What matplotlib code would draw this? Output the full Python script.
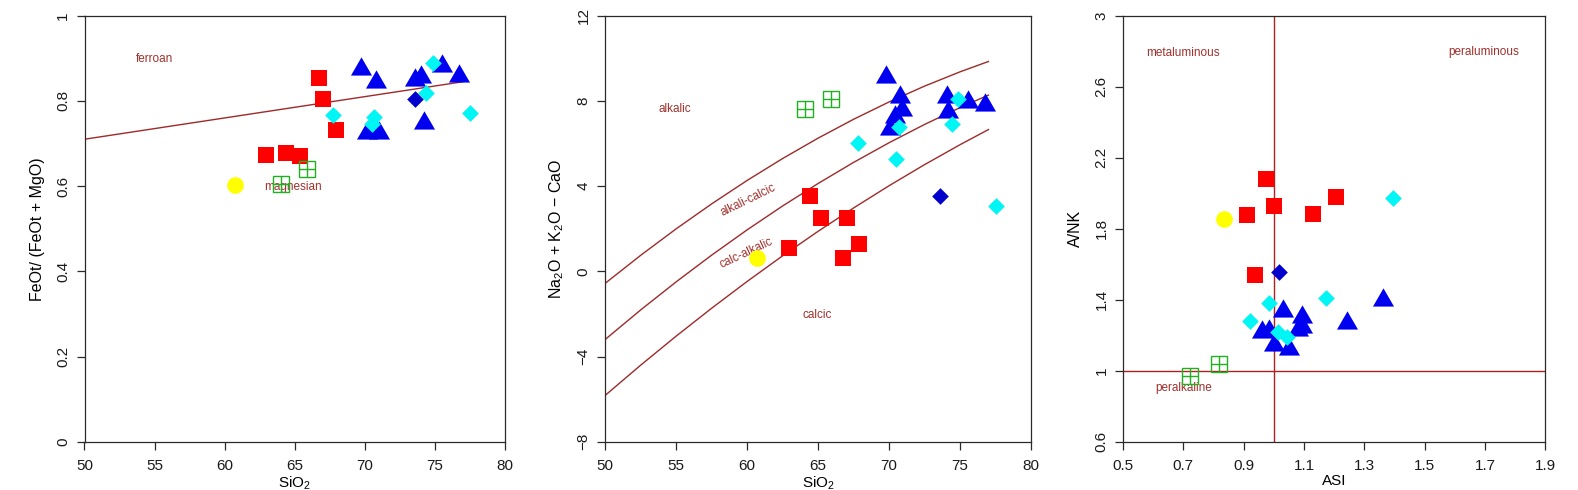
import matplotlib
matplotlib.use("Agg")
import matplotlib.pyplot as plt

plt.rcParams['font.family'] = ['Liberation Sans', 'DejaVu Sans']
plt.rcParams['mathtext.fontset'] = 'custom'
plt.rcParams['mathtext.rm'] = 'Liberation Sans'
plt.rcParams['mathtext.it'] = 'Liberation Sans:italic'
plt.rcParams['mathtext.default'] = 'rm'

# ---------------- data ----------------
# Panel 1: SiO2 vs FeOt/(FeOt+MgO)
p1_red_x = [62.95, 64.37, 65.4, 66.75, 67.03, 67.91]
p1_red_y = [0.672, 0.678, 0.670, 0.854, 0.804, 0.731]
p1_yellow_x = [60.76]
p1_yellow_y = [0.602]
p1_green_x = [64.04, 65.87]
p1_green_y = [0.604, 0.640]
p1_tri_x = [69.76, 70.78, 73.6, 74.0, 75.49, 76.70, 74.23, 70.12, 71.0]
p1_tri_y = [0.874, 0.845, 0.848, 0.855, 0.883, 0.859, 0.749, 0.725, 0.725]
p1_dblue_x = [73.56]
p1_dblue_y = [0.804]
p1_cyan_x = [67.74, 70.67, 70.48, 74.87, 74.39, 77.48]
p1_cyan_y = [0.767, 0.763, 0.746, 0.888, 0.819, 0.771]
p1_line_x = [50, 77]
p1_line_y = [0.71, 0.845]

# Panel 2: SiO2 vs Na2O+K2O-CaO
p2_red_x = [62.94, 64.42, 65.17, 66.77, 67.03, 67.90]
p2_red_y = [1.11, 3.55, 2.49, 0.61, 2.49, 1.26]
p2_yellow_x = [60.71]
p2_yellow_y = [0.64]
p2_green_x = [64.05, 65.88]
p2_green_y = [7.60, 8.07]
p2_tri_x = [69.76, 70.77, 74.06, 74.17, 75.58, 76.76, 70.89, 70.42, 70.06]
p2_tri_y = [9.14, 8.20, 8.20, 7.49, 7.96, 7.81, 7.57, 7.26, 6.67]
p2_dblue_x = [73.61]
p2_dblue_y = [3.55]
p2_cyan_x = [67.78, 70.70, 70.46, 74.88, 74.41, 77.53]
p2_cyan_y = [6.04, 6.79, 5.25, 8.07, 6.91, 3.08]
# boundary curves (alkalic / alkali-calcic / calc-alkalic / calcic)
mali_x = [50, 52.5, 55, 57.5, 60, 62.5, 65, 67.5, 70, 72.5, 75, 77]
mali_a = [-0.56, 0.754, 1.997, 3.168, 4.268, 5.296, 6.253, 7.138, 7.952, 8.694, 9.365, 9.85]
mali_b = [-3.195, -1.81, -0.492, 0.761, 1.948, 3.069, 4.124, 5.114, 6.037, 6.895, 7.686, 8.272]
mali_c = [-5.82, -4.403, -3.04, -1.731, -0.474, 0.729, 1.879, 2.975, 4.018, 5.008, 5.944, 6.654]

# Panel 3: A/CNK vs A/NK
p3_red_x = [0.974, 1.001, 0.912, 1.129, 1.206, 0.936]
p3_red_y = [2.08, 1.93, 1.877, 1.881, 1.978, 1.541]
p3_yellow_x = [0.835]
p3_yellow_y = [1.856]
p3_green_x = [0.723, 0.819]
p3_green_y = [0.97, 1.036]
p3_tri_x = [1.031, 1.094, 1.092, 0.960, 0.985, 1.001, 1.051, 1.242, 1.363, 1.081]
p3_tri_y = [1.338, 1.301, 1.248, 1.220, 1.225, 1.145, 1.121, 1.267, 1.398, 1.229]
p3_dblue_x = [1.018]
p3_dblue_y = [1.554]
p3_cyan_x = [1.396, 1.172, 0.985, 0.921, 1.013, 1.045]
p3_cyan_y = [1.975, 1.411, 1.379, 1.282, 1.216, 1.188]

# ---------------- styling ----------------
LINE_C = '#9E2A2A'
TEXT_C = '#A0302C'
RED = '#FF0000'
YEL = '#FFFF00'
GRN = '#22B022'
BLUE = '#0000F0'
DBLUE = '#0000CC'
CYAN = '#00F5F5'
TRI = [(0, 1), (-0.866, -0.5), (0.866, -0.5), (0, 1)]
DIA = [(0, 1), (1, 0), (0, -1), (-1, 0), (0, 1)]

fig = plt.figure(figsize=(15.78, 4.90), dpi=100)
W, H = 1578.0, 490.0
bottom = (H - 441.7) / H
height = 426.0 / H
ax1 = fig.add_axes([84.5 / W, bottom, 420.5 / W, height])
ax2 = fig.add_axes([605.3 / W, bottom, 425.7 / W, height])
ax3 = fig.add_axes([1123.0 / W, bottom, 422.3 / W, height])


def style(ax):
    for s in ax.spines.values():
        s.set_color('#2a2a2a')
        s.set_linewidth(0.9)
    ax.tick_params(direction='out', length=5.5, width=0.9, color='#2a2a2a',
                   labelsize=11, labelcolor='#1a1a1a', pad=4)
    ax.tick_params(axis='x', pad=7)
    ax.tick_params(axis='y', labelrotation=90, pad=5)
    for lab in ax.get_yticklabels():
        lab.set_va('center')


def points(ax, rx, ry, yx, yy, gx, gy, tx, ty, dx, dy, cx, cy):
    ax.plot(rx, ry, ls='none', marker='s', ms=12, mfc=RED, mec=RED, mew=0, zorder=3)
    ax.plot(yx, yy, ls='none', marker='o', ms=12, mfc=YEL, mec=YEL, mew=0, zorder=3)
    ax.plot(gx, gy, ls='none', marker='s', ms=11, mfc='none', mec=GRN, mew=1.0, zorder=4)
    ax.plot(gx, gy, ls='none', marker='+', ms=11, mec=GRN, mew=1.0, zorder=4)
    ax.plot(tx, ty, ls='none', marker=TRI, ms=17.5, mfc=BLUE, mec=BLUE, mew=0, zorder=5)
    ax.plot(dx, dy, ls='none', marker=DIA, ms=12, mfc=DBLUE, mec=DBLUE, mew=0, zorder=5)
    ax.plot(cx, cy, ls='none', marker=DIA, ms=12, mfc=CYAN, mec=CYAN, mew=0, zorder=6)


# Panel 1
ax1.plot(p1_line_x, p1_line_y, color=LINE_C, lw=1.0, zorder=2)
ax1.text(54.96, 0.898, 'ferroan', color=TEXT_C, fontsize=8.5, ha='center', va='center', zorder=1)
ax1.text(64.9, 0.599, 'magnesian', color=TEXT_C, fontsize=8.5, ha='center', va='center', zorder=1)
points(ax1, p1_red_x, p1_red_y, p1_yellow_x, p1_yellow_y, p1_green_x, p1_green_y,
       p1_tri_x, p1_tri_y, p1_dblue_x, p1_dblue_y, p1_cyan_x, p1_cyan_y)
ax1.set_xlim(50, 80)
ax1.set_ylim(0, 1)
ax1.set_xticks([50, 55, 60, 65, 70, 75, 80])
ax1.set_yticks([0, 0.2, 0.4, 0.6, 0.8, 1])
ax1.set_yticklabels(['0', '0.2', '0.4', '0.6', '0.8', '1'])
ax1.set_ylabel('FeOt/ (FeOt + MgO)', fontsize=11.5, labelpad=8)
ax1.set_xlabel('SiO$_2$', fontsize=11, labelpad=1)
style(ax1)

# Panel 2
for yy in (mali_a, mali_b, mali_c):
    ax2.plot(mali_x, yy, color=LINE_C, lw=1.0, zorder=2)
ax2.text(54.91, 7.62, 'alkalic', color=TEXT_C, fontsize=8.5, ha='center', va='center', zorder=1)
ax2.text(60.1, 3.35, 'alkali-calcic', color=TEXT_C, fontsize=8.5, ha='center', va='center',
         rotation=26, zorder=1)
ax2.text(59.96, 0.85, 'calc-alkalic', color=TEXT_C, fontsize=8.5, ha='center', va='center',
         rotation=25, zorder=1)
ax2.text(64.94, -2.05, 'calcic', color=TEXT_C, fontsize=8.5, ha='center', va='center', zorder=1)
points(ax2, p2_red_x, p2_red_y, p2_yellow_x, p2_yellow_y, p2_green_x, p2_green_y,
       p2_tri_x, p2_tri_y, p2_dblue_x, p2_dblue_y, p2_cyan_x, p2_cyan_y)
ax2.set_xlim(50, 80)
ax2.set_ylim(-8, 12)
ax2.set_xticks([50, 55, 60, 65, 70, 75, 80])
ax2.set_yticks([-8, -4, 0, 4, 8, 12])
ax2.set_ylabel('Na$_2$O + K$_2$O $-$ CaO', fontsize=11.5, labelpad=8)
ax2.set_xlabel('SiO$_2$', fontsize=11, labelpad=1)
style(ax2)

# Panel 3
ax3.axvline(1.0, color='#B02020', lw=1.0, zorder=2)
ax3.axhline(1.0, color='#B02020', lw=1.0, zorder=2)
ax3.text(0.70, 2.79, 'metaluminous', color=TEXT_C, fontsize=8.5, ha='center', va='center', zorder=1)
ax3.text(1.697, 2.797, 'peraluminous', color=TEXT_C, fontsize=8.5, ha='center', va='center', zorder=1)
ax3.text(0.70, 0.90, 'peralkaline', color=TEXT_C, fontsize=8.5, ha='center', va='center', zorder=1)
points(ax3, p3_red_x, p3_red_y, p3_yellow_x, p3_yellow_y, p3_green_x, p3_green_y,
       p3_tri_x, p3_tri_y, p3_dblue_x, p3_dblue_y, p3_cyan_x, p3_cyan_y)
ax3.set_xlim(0.5, 1.9)
ax3.set_ylim(0.6, 3.0)
ax3.set_xticks([0.5, 0.7, 0.9, 1.1, 1.3, 1.5, 1.7, 1.9])
ax3.set_yticks([0.6, 1.0, 1.4, 1.8, 2.2, 2.6, 3.0])
ax3.set_yticklabels(['0.6', '1', '1.4', '1.8', '2.2', '2.6', '3'])
ax3.set_ylabel('A/NK', fontsize=11.5, labelpad=8)
ax3.set_xlabel('ASI', fontsize=11, labelpad=1)
style(ax3)

fig.savefig('out.png', dpi=100, facecolor='white')
